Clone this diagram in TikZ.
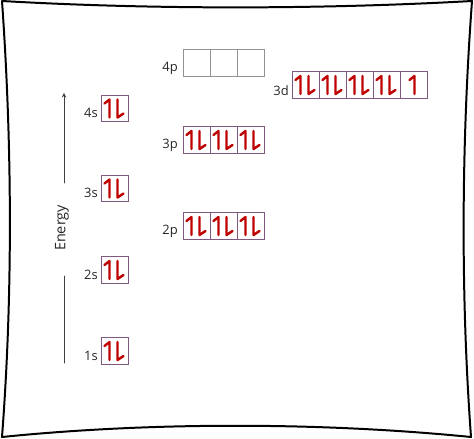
\documentclass[tikz,border=0pt]{standalone}
\usepackage{fontspec}
\setmainfont{Open Sans}
\usetikzlibrary{positioning}

\newcommand{\electronpair}[1]{%
    \draw[spin, shift={(#1)}] (-10, -5) -- (-5, -9) -- (-5, 9);
    \draw[spin, shift={(#1)}] (3, -9) -- (3, 9) -- (9, 5);
}
\newcommand{\electronsingle}[1]{%
    \draw[spin, shift={(#1)}] (-4, -5) -- (1, -9) -- (1, 9);
}

\begin{document}
\begin{tikzpicture}[%
        x = 1bp,
        y = -1bp,
        > = stealth,
        line cap = round,
        orbital/.style = {%
            draw = gray!70!violet,
            line width = 0.8pt,
            minimum width = 27bp,
            minimum height = 26.5bp,
            inner sep = 0pt,
            outer sep = 0pt
        },
        emptyorbital/.style = {%
            orbital,
            draw = gray!85
        },
        level/.style = {%
            anchor = base east,
            text = black!85,
            font = \fontsize{13}{15}\selectfont,
            inner sep = 0pt
        },
        spin/.style = {%
            draw = red!75!black,
            line width = 2.4pt,
            line join = round
        }
    ]

        \useasboundingbox (0, 0) rectangle (474, 439);

        % Pillow-shaped frame around the picture.
        \draw[line width = 2pt, line join = round]
            (2, 1) .. controls (150, 9.5) and (320, 9.5) .. (472, 1)
            .. controls (461, 150) and (461, 300) .. (471, 437)
            .. controls (320, 422) and (150, 422) .. (2, 437)
            .. controls (12.5, 300) and (12.5, 150) .. (2, 1);

        % Energy axis.
        \node[rotate = 90, text = black!85, font = \fontsize{14.5}{16}\selectfont]
            (energy) at (62, 228) {Energy};
        \coordinate (ebottom) at (64, 363);
        \coordinate (elow) at (64, 276);
        \coordinate (ehigh) at (64, 183);
        \coordinate (etop) at (64, 93);
        \draw[black!75, line width = 1pt] (ebottom) -- (elow);
        \draw[black!75, line width = 1pt, ->] (ehigh) -- (etop);

        % s orbitals.
        \node[orbital] (s1) at (114.5, 351) {};
        \node[orbital] (s2) at (114.5, 270) {};
        \node[orbital] (s3) at (114.5, 188.5) {};
        \node[orbital] (s4) at (114.5, 108.5) {};

        % p orbitals.
        \node[orbital] (p2a) at (196.5, 226) {};
        \node[orbital, right = 0pt of p2a] (p2b) {};
        \node[orbital, right = 0pt of p2b] (p2c) {};
        \node[orbital] (p3a) at (196.5, 140) {};
        \node[orbital, right = 0pt of p3a] (p3b) {};
        \node[orbital, right = 0pt of p3b] (p3c) {};
        \node[emptyorbital] (p4a) at (196.5, 63) {};
        \node[emptyorbital, right = 0pt of p4a] (p4b) {};
        \node[emptyorbital, right = 0pt of p4b] (p4c) {};

        % d orbitals.
        \node[orbital] (d3a) at (305.5, 85) {};
        \node[orbital, right = 0pt of d3a] (d3b) {};
        \node[orbital, right = 0pt of d3b] (d3c) {};
        \node[orbital, right = 0pt of d3c] (d3d) {};
        \node[orbital, right = 0pt of d3d] (d3e) {};

        % Level labels.
        \node[level] at ([xshift = -3bp, yshift = 4bp]s1.south west) {1s};
        \node[level] at ([xshift = -3bp, yshift = 4bp]s2.south west) {2s};
        \node[level] at ([xshift = -3bp, yshift = 4bp]s3.south west) {3s};
        \node[level] at ([xshift = -3bp, yshift = 4bp]s4.south west) {4s};
        \node[level] at ([xshift = -5bp, yshift = 5bp]p2a.south west) {2p};
        \node[level] at ([xshift = -5bp, yshift = 5bp]p3a.south west) {3p};
        \node[level] at ([xshift = -5bp, yshift = 5bp]p4a.south west) {4p};
        \node[level] at ([xshift = -3bp, yshift = 3bp]d3a.south west) {3d};

        % Electrons.
        \foreach \orb in {s1, s2, s3, s4, p2a, p2b, p2c, p3a, p3b, p3c, d3a, d3b, d3c, d3d}
            {\electronpair{\orb}}
        \electronsingle{d3e}
    \end{tikzpicture}
\end{document}
